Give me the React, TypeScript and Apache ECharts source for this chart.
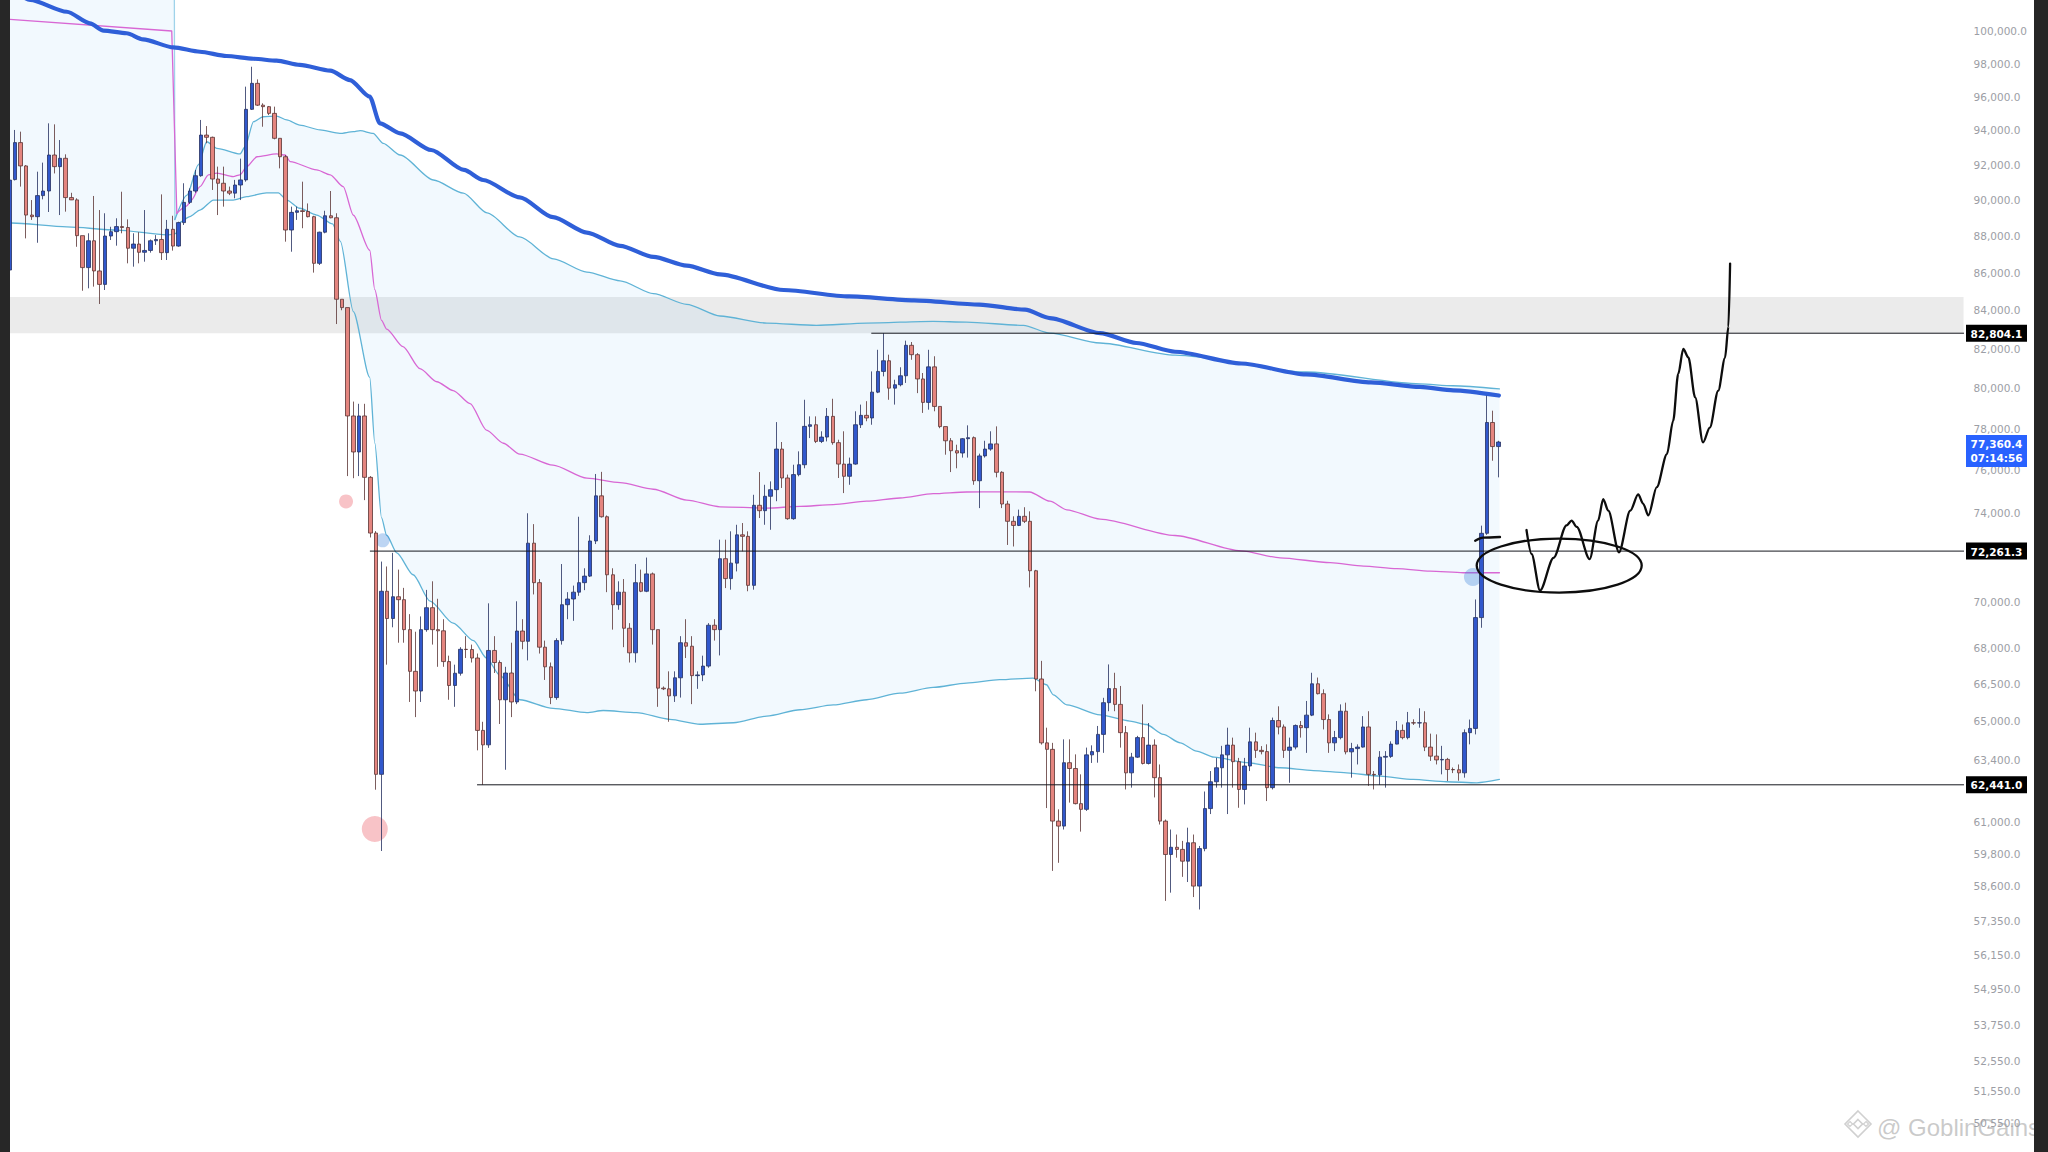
import React, { useEffect, useRef } from "react";
import * as echarts from "echarts";

// ---------- scale / tick data ----------
const SLOT_COUNT = 347;
const PRICE_MIN = 49636;
const PRICE_MAX = 101976;

const priceTicks = [
  100000, 98000, 96000, 94000, 92000, 90000, 88000, 86000, 84000, 82000, 80000,
  78000, 76000, 74000, 70000, 68000, 66500, 65000, 63400, 61000, 59800, 58600,
  57350, 56150, 54950, 53750, 52550, 51550, 50550,
];

const levelPrices = [82804.1, 72261.3, 62441.0];
const levelStarts = [152.9, 64.0, 83.0];
const lastPrice = 77360.4;
const countdown = "07:14:56";
const zoneTop = 84700;
const zoneBottom = 82804.1;

// ---------- candles [open, close, low, high] ----------
const candlesA = [
  [86140, 91120, 85900, 91300], [91150, 93280, 91100, 94020], [93280, 91930, 90750, 93920],
  [91930, 89150, 87860, 91980], [89150, 89060, 88880, 89990], [89060, 90240, 87620, 91600],
  [90240, 90500, 90030, 92120], [90500, 92560, 89320, 94410], [92560, 91890, 91500, 94350],
  [91890, 92370, 89150, 93430], [92370, 90130, 89340, 92600], [90130, 90000, 89990, 90400],
  [90000, 88010, 87400, 90090], [88010, 86270, 85030, 88010], [86270, 87730, 85160, 88140],
  [87730, 86090, 85250, 90220], [86090, 85370, 84330, 89430], [85370, 87990, 85070, 89250],
  [87990, 88230, 87770, 88500], [88230, 88510, 87460, 88970], [88510, 88460, 88140, 90460],
  [88460, 87320, 86500, 88910], [87320, 87550, 86320, 88140], [87550, 87100, 86500, 88200],
  [87100, 87200, 86590, 89430], [87200, 87730, 87080, 87800], [87730, 87800, 87500, 88040],
  [87800, 87080, 86680, 90310], [87080, 88360, 86680, 88880], [88360, 87440, 87190, 89110],
  [87440, 88730, 87400, 88780], [88730, 89860, 88600, 90940], [89860, 90500, 89770, 90650],
  [90500, 91370, 90400, 91700], [91370, 93720, 91310, 94610], [93720, 93590, 93240, 94250],
  [93590, 91180, 90560, 93630], [91180, 90940, 89150, 91890], [90940, 90500, 89620, 91890],
  [90500, 90380, 90270, 90750], [90380, 90840, 90090, 91130], [90840, 91130, 89990, 92350],
  [91130, 95240, 91030, 96600], [95240, 96800, 95200, 97810], [96800, 95490, 95440, 97040],
  [95490, 95400, 94210, 95600], [95400, 95000, 94900, 95440], [95000, 93530, 93470, 95400],
  [93530, 92460, 91790, 93530], [92460, 88320, 87680, 92560], [88320, 89300, 87130, 89620],
  [89300, 89390, 88880, 89620], [89390, 89350, 88420, 91030], [89350, 89060, 89020, 89800],
  [89060, 86500, 86000, 89110], [86500, 88200, 86410, 88230], [88200, 89110, 88140, 89390],
  [89110, 89000, 88970, 90500], [89000, 84580, 83280, 89250], [84580, 84140, 84000, 84580],
];

const candlesB = [
  [84140, 78630, 75730, 84140], [78630, 76880, 75630, 79340], [76880, 78630, 75730, 79230],
  [78630, 75670, 74600, 79230], [75670, 73080, 72880, 75730], [73080, 62850, 62250, 73170],
  [62850, 70470, 59910, 71790], [70470, 69280, 67310, 71570], [69280, 70230, 68900, 72180],
  [70230, 70100, 68240, 71430], [70100, 68800, 68240, 70620], [68800, 67030, 65760, 69470],
  [67030, 66210, 65140, 68710], [66210, 68800, 65760, 69370], [68800, 69750, 68710, 70530],
  [69750, 68800, 68160, 70910], [68800, 68750, 67220, 70140], [68750, 67440, 67220, 69250],
  [67440, 66440, 65850, 67690], [66440, 66950, 65560, 67310], [66950, 67960, 66850, 68050],
  [67960, 67950, 67590, 68520], [67950, 67590, 67400, 68160], [67590, 64600, 63800, 67780],
  [64600, 64020, 62441, 64950], [64020, 67910, 63900, 69940], [67910, 67400, 66960, 68520],
  [67400, 65850, 64860, 67490], [65850, 66960, 63030, 67220], [66960, 65760, 65140, 68240],
  [65760, 68740, 65670, 70030], [68740, 68300, 67960, 69250], [68300, 72620, 67490, 73990],
  [72620, 70850, 70330, 73490], [70850, 68050, 67780, 71010], [68050, 67220, 66670, 68330],
  [67220, 65940, 65670, 67400], [65940, 68330, 65850, 68430], [68330, 69880, 68160, 71680],
  [69880, 70130, 69250, 70430], [70130, 70430, 69180, 70720], [70430, 70850, 70270, 73830],
  [70850, 71140, 70520, 71490], [71140, 72720, 71100, 72980], [72720, 74800, 72580, 75830],
  [74800, 73830, 73790, 75930], [73830, 71200, 70430, 73890], [71200, 69880, 68800, 71490],
  [69880, 70430, 69660, 70910], [70430, 68860, 68050, 71010], [68860, 67810, 67400, 69080],
  [67810, 70850, 67400, 71680], [70850, 70470, 70430, 71430], [70470, 71240, 70430, 71970],
  [71240, 68800, 68160, 71300], [68800, 66330, 65560, 68800], [66330, 66300, 66250, 66400],
  [66300, 66010, 64950, 67030], [66010, 66760, 65760, 67030], [66760, 68240, 65940, 68520],
  [68240, 68090, 67590, 69250], [68090, 66850, 65670, 68520], [66850, 66880, 66300, 67030],
  [66880, 67250, 66620, 67690], [67250, 68990, 67180, 69080], [68990, 68800, 68330, 69250],
];

const candlesC = [
  [68800, 71920, 67700, 72780], [71920, 71030, 70610, 72780], [71030, 71720, 70540, 73160],
  [71720, 73000, 71350, 73460], [73000, 72930, 72250, 73540], [72930, 70730, 70470, 73160],
  [70730, 74360, 70540, 74850], [74360, 74110, 73770, 75920], [74110, 74780, 73460, 75320],
  [74780, 75090, 73230, 75480], [75090, 77020, 74550, 78330], [77020, 75640, 75170, 77360],
  [75640, 73740, 73690, 75800], [73740, 75800, 73690, 76270], [75800, 76270, 75720, 76910],
  [76270, 78120, 76100, 79430], [78120, 78200, 77550, 78610], [78200, 77390, 77310, 78610],
  [77390, 77600, 77310, 77880], [77600, 78610, 77390, 79020], [78610, 77330, 77230, 79480],
  [77330, 76300, 75640, 77470], [76300, 75720, 74930, 77880], [75720, 76300, 75320, 76610],
  [76300, 78200, 76270, 78860], [78200, 78660, 78040, 79190], [78660, 78530, 78370, 79360],
  [78530, 79810, 78200, 80850], [79810, 80850, 79760, 81950], [80850, 81390, 80600, 82804.1],
  [81390, 80010, 79430, 81700], [80010, 80180, 79190, 80430], [80180, 80630, 80100, 81060],
  [80630, 82180, 80270, 82420], [82180, 81700, 81440, 82350], [81700, 80470, 79760, 81780],
  [80470, 79300, 78780, 80770], [79300, 81080, 78940, 81950], [81080, 79100, 78860, 81620],
  [79100, 78110, 78030, 79100], [78110, 77420, 76750, 78110], [77420, 76940, 75920, 77550],
  [76940, 76830, 76100, 77230], [76830, 77520, 76610, 77550], [77520, 77570, 76610, 78170],
  [77570, 75510, 75320, 77630], [75510, 76690, 74230, 76800], [76690, 77020, 76610, 77420],
  [77020, 77270, 76940, 77880], [77270, 75910, 75670, 78120], [75910, 74420, 74230, 75960],
  [74420, 73620, 72540, 74570], [73620, 73430, 72470, 73850], [73430, 73850, 73400, 74160],
  [73850, 73620, 73540, 74270], [73620, 71380, 70640, 74080], [71380, 66710, 66200, 71420],
  [66710, 64100, 64030, 67470],
];

const candlesD = [
  [64100, 63840, 61540, 64710], [63840, 61040, 59170, 64100], [61040, 60850, 59470, 61490],
  [60850, 63310, 60720, 64240], [63310, 63080, 61750, 64240], [63080, 61710, 61680, 63640],
  [61710, 61490, 60640, 62850], [61490, 63620, 61430, 63910], [63620, 63750, 63300, 64000],
  [63750, 64440, 63310, 64780], [64440, 65730, 63700, 65930], [65730, 66310, 65380, 67320],
  [66310, 65660, 65380, 66970], [65660, 64510, 63910, 66420], [64510, 62910, 62260, 64780],
  [62910, 63530, 62330, 63700], [63530, 64310, 63500, 64380], [64310, 63280, 63240, 65660],
  [63280, 64010, 63240, 64900], [64010, 62720, 61950, 64240], [62720, 61040, 60910, 63240],
  [61040, 59780, 58070, 61100], [59780, 60050, 58370, 60720], [60050, 59970, 59660, 60530],
  [59970, 59530, 58950, 60290], [59530, 60220, 58760, 60790], [60220, 58610, 58210, 60530],
  [58610, 60000, 57760, 60100], [60000, 61520, 59900, 62180], [61520, 62560, 61310, 62980],
  [62560, 63110, 62330, 63500], [63110, 63620, 62330, 63980], [63620, 64010, 61310, 64710],
  [64010, 63350, 62330, 64310], [63350, 62260, 61550, 63500], [62260, 63180, 61680, 63500],
  [63180, 64140, 62980, 64710], [64140, 63800, 63500, 64510], [63800, 63750, 63640, 63970],
  [63750, 62330, 61810, 64040], [62330, 65000, 62260, 65120], [65000, 64740, 64440, 65580],
  [64740, 63800, 63500, 64840], [63800, 63930, 62520, 64310], [63930, 64800, 63840, 64840],
  [64800, 64710, 64310, 64980], [64710, 65220, 63700, 65800], [65220, 66510, 65180, 66970],
  [66510, 66100, 66070, 66770], [66100, 65040, 64640, 66280], [65040, 64100, 63700, 65250],
  [64100, 64310, 63770, 64580], [64310, 65380, 64240, 65660], [65380, 63740, 63640, 65730],
  [63740, 63870, 62720, 64100], [63870, 63930, 63240, 64040], [63930, 64740, 63910, 65180],
  [64740, 62850, 62400, 65380], [62850, 62830, 62260, 62980], [62830, 63530, 62441, 63770],
  [63530, 63560, 62330, 63770], [63560, 64050, 63500, 64160], [64050, 64600, 64040, 64980],
  [64600, 64310, 64240, 64840], [64310, 64910, 64240, 65350], [64910, 64900, 64820, 65050],
  [64900, 64910, 64710, 65500], [64910, 63930, 63770, 65380], [63930, 63570, 63380, 64470],
  [63570, 63420, 63240, 64440], [63420, 63440, 62850, 63980], [63440, 63040, 62590, 63500],
  [63040, 63030, 62900, 63120], [63030, 62910, 62600, 63240], [62910, 64510, 62720, 64640],
  [64510, 64680, 64040, 65040], [64680, 69320, 64440, 70110], [69320, 73070, 68880, 73420],
  [73070, 78310, 73000, 79630], [78310, 77140, 76460, 78890], [77140, 77360.4, 75670, 77420],
];

// ---------- indicator lines [barIndex, price] ----------
const trendMA = [
  [-0.5, 103100], [3.7, 101980], [10.2, 101230], [14.3, 100500], [16.7, 100040], [20.8, 99880],
  [23.7, 99500], [29.1, 99000], [33.8, 98730], [38.5, 98470], [43.3, 98300], [47.4, 98180],
  [51.5, 97920], [56.9, 97570], [60.4, 97000], [63.9, 96000], [65.7, 94410], [69.3, 93820],
  [74.8, 92850], [80.6, 91700], [84.0, 91125], [90.5, 90140], [96.4, 89030], [102.4, 88180],
  [108.3, 87450], [114.2, 86850], [120.1, 86380], [126, 85910], [137.3, 85070], [148.9, 84730],
  [160.4, 84520], [172, 84300], [180.1, 84030], [184.5, 83590], [193.4, 82810], [199.8, 82300],
  [206.7, 81850], [218.4, 81250], [229.9, 80700], [241.4, 80300], [250.1, 80070], [256, 79900],
  [264.1, 79640],
];

const vwapOldMid = [[-0.5, 100760], [28.8, 100020], [29.7, 89250]];
const vwapMid = [
  [29.7, 89250], [31.4, 89650], [32.3, 89990], [33.8, 90750], [35.3, 91420], [36.8, 91520],
  [39.7, 91320], [40.9, 91420], [42.1, 91890], [43.9, 92460], [47.4, 92620], [48.9, 92560],
  [49.8, 92180], [54.5, 91700], [56.9, 91420], [59.2, 90750], [61.0, 89140], [63.9, 87210],
  [64.8, 85090], [66.0, 83470], [66.9, 83020], [69.8, 82110], [72.8, 80990], [75.8, 80330],
  [78.7, 79890], [81.7, 79240], [84.6, 77940], [87.6, 77300], [90.5, 76780], [96.4, 76250],
  [102.4, 75630], [108.3, 75420], [114.2, 75110], [120.1, 74600], [126, 74290], [134.3, 74230],
  [140.2, 74310], [146.1, 74390], [152, 74550], [157.9, 74700], [163.8, 74900], [169.7, 74980],
  [175.6, 74990], [180.9, 74980], [184.5, 74550], [187.5, 74150], [193.4, 73720], [206.7, 72970],
  [218.4, 72270], [225.3, 71960], [234.2, 71740], [240.1, 71590], [246, 71470], [251.9, 71360],
  [257.8, 71290], [264.2, 71290],
];

const vwapOldUpper = [[29.25, 104000], [29.35, 88900]];
const vwapUpper = [
  [29.35, 88900], [31.5, 90270], [33.5, 91990], [35, 93330], [36.8, 92950], [40.9, 92620],
  [41.8, 93040], [43.3, 94510], [45, 94800], [47.4, 94840], [49.2, 94610], [51.5, 94310],
  [55.1, 94020], [58.6, 93820], [61, 93920], [62.2, 93980], [64.5, 93820], [66.3, 93240],
  [69.3, 92560], [75.2, 91125], [80.5, 90380], [84.7, 89270], [90.5, 87940], [96.5, 86740],
  [102.4, 86030], [108.3, 85560], [114.2, 84880], [120.1, 84310], [126, 83700], [134.3, 83330],
  [143.1, 83210], [152, 83330], [163.8, 83420], [169.7, 83380], [179.8, 83210], [184.5, 82810],
  [193.4, 82300], [206.7, 81680], [229.9, 80820], [250.1, 80220], [255.9, 80130], [264.2, 79970],
];

const vwapOldLower = [
  [-0.5, 88740], [0.4, 88710], [10.2, 88490], [19.1, 88320], [27.9, 88050], [29.6, 88140],
];
const vwapLower = [
  [29.6, 88140], [30.3, 88760], [32.0, 89060], [33.8, 89430], [36.2, 89990], [39.7, 89990],
  [42.1, 90180], [45.6, 90400], [47.7, 90400], [49.2, 89990], [51.5, 89530], [54.5, 89150],
  [57.3, 88660], [58.7, 87700], [61.0, 83930], [63.9, 80550], [64.8, 77310], [66.0, 73780],
  [66.9, 72980], [68.7, 72180], [71.6, 71200], [74.6, 70040], [78.7, 69080], [82.3, 68330],
  [84.6, 67590], [87.0, 66860], [90.5, 65850], [96.4, 65500], [102.4, 65320], [105.3, 65410],
  [111.2, 65320], [117.1, 65050], [122.5, 64850], [128.4, 64910], [134.3, 65180], [140.2, 65440],
  [146.1, 65640], [152, 65850], [157.9, 66120], [163.8, 66360], [169.7, 66540], [175.6, 66680],
  [181.5, 66750], [183.9, 66470], [185.1, 66050], [187.5, 65640], [193.4, 65230], [198.7, 64980],
  [201.6, 64840], [204.6, 64440], [207.6, 64100], [210.5, 63770], [213.6, 63530], [219.4, 63310],
  [225.3, 63110], [231.2, 63000], [237.1, 62910], [243, 62780], [248.9, 62650], [254.8, 62560],
  [260.2, 62520], [264.2, 62650],
];

// ---------- signal dots ----------
const pinkDots = [[59.7, 74540], [64.8, 60740]];
const blueDots = [[66.2, 72750], [259.5, 71100]];

// ---------- hand-drawn sketch ----------
const sketchPath = [
  [269.0, 73220], [269.9, 72130], [271.4, 70500], [273.8, 71960], [276.1, 73430], [277.0, 73650],
  [277.9, 73360], [280.2, 71900], [281.7, 73650], [282.6, 74650], [283.5, 74110], [285.4, 72210],
  [287.4, 74110], [288.8, 74870], [289.7, 74430], [290.6, 73890], [292.1, 75210], [293.9, 76780],
  [295.0, 78390], [295.9, 80720], [296.8, 81990], [297.7, 81560], [298.9, 79550], [300.3, 77340],
  [301.5, 78060], [303.0, 79890], [304.2, 81540], [304.8, 83140], [305.1, 86490],
];
const sketchHook = [[259.9, 72730], [261.3, 72870], [264.3, 72900]];
const sketchEllipseCenter = [274.8, 71610];

// ---------- styles ----------
const UP = "#3158cc";
const DOWN = "#e4857f";
const BAND = "#5fb3d6";
const MID = "#d867d4";
const MA = "#2f5fd8";
const pinkDotSizes = [14, 26];
const blueDotSizes = [14, 18];

const fmt = (v: number) =>
  v.toLocaleString("en-US", { minimumFractionDigits: 1, maximumFractionDigits: 1 });

export default function App() {
  const ref = useRef<HTMLDivElement>(null);

  useEffect(() => {
    document.body.style.margin = "0";
    const el = ref.current;
    if (!el) return;
    const chart = echarts.init(el, null, { renderer: "svg", width: 2048, height: 1152 });

    const candles = [...candlesA, ...candlesB, ...candlesC, ...candlesD];
    const cats = Array.from({ length: SLOT_COUNT }, (_, i) => String(i));
    const bandPoly = [...vwapUpper, ...[...vwapLower].reverse()];
    const oldBandPoly = [[-0.5, 104000], [29.3, 104000], ...[...vwapOldLower].reverse()];

    const fill = (poly: number[][], color: string, z: number) => ({
      type: "custom",
      coordinateSystem: "cartesian2d",
      xAxisIndex: 1,
      yAxisIndex: 0,
      silent: true,
      z,
      data: [[100, 70000]],
      renderItem: (_p: any, api: any) => ({
        type: "polygon",
        shape: { points: poly.map((pt) => api.coord(pt)) },
        style: { fill: color },
      }),
    });

    const line = (data: number[][], color: string, width: number, z: number, smooth: number | boolean = 0.25) => ({
      type: "line",
      xAxisIndex: 1,
      yAxisIndex: 0,
      data,
      symbol: "none",
      showSymbol: false,
      smooth,
      smoothMonotone: smooth ? "x" : undefined,
      silent: true,
      z,
      lineStyle: { color, width, cap: "round", join: "round" },
      emphasis: { disabled: true },
    });

    const levelSeries = levelPrices.map((p, k) => ({
      ...line([[levelStarts[k], p], [SLOT_COUNT - 0.5, p]], "#16181f", 1, 6, false),
      ...(k === 0
        ? {
            markArea: {
              silent: true,
              itemStyle: { color: "rgba(205,205,205,0.4)" },
              data: [[{ yAxis: zoneTop }, { yAxis: zoneBottom }]],
            },
          }
        : {}),
    }));

    chart.setOption({
      animation: false,
      backgroundColor: "#ffffff",
      grid: { left: 6.5, right: 84.4, top: 0, bottom: 0 },
      xAxis: [
        { type: "category", data: cats, show: false, boundaryGap: true },
        { type: "value", min: -0.5, max: SLOT_COUNT - 0.5, show: false },
      ],
      yAxis: [
        {
          type: "log",
          logBase: 10,
          min: PRICE_MIN,
          max: PRICE_MAX,
          position: "right",
          axisLine: { show: false },
          axisTick: { show: false },
          splitLine: { show: false },
          axisLabel: {
            customValues: priceTicks,
            formatter: (v: number) => fmt(v),
            color: "#9c9ea5",
            fontSize: 10.5,
            fontFamily: "DejaVu Sans",
            margin: 10,
            showMinLabel: true,
            showMaxLabel: true,
          },
        },
      ],
      series: [
        fill(oldBandPoly, "rgba(33,150,243,0.06)", 1),
        fill(bandPoly, "rgba(33,150,243,0.06)", 1),
        line(vwapOldLower, BAND, 1.3, 2),
        line(vwapLower, BAND, 1.3, 2),
        line(vwapOldUpper, "#9fd3ea", 1.3, 2, false),
        line(vwapUpper, BAND, 1.3, 2),
        line(vwapOldMid, MID, 1.3, 2, false),
        line(vwapMid, MID, 1.3, 2),
        line(trendMA, MA, 4.2, 3),
        {
          type: "scatter",
          xAxisIndex: 1,
          yAxisIndex: 0,
          data: pinkDots,
          symbolSize: (_v: any, p: any) => pinkDotSizes[p.dataIndex],
          itemStyle: { color: "rgba(235,90,100,0.45)" },
          silent: true,
          z: 3,
        },
        {
          type: "scatter",
          xAxisIndex: 1,
          yAxisIndex: 0,
          data: blueDots,
          symbolSize: (_v: any, p: any) => blueDotSizes[p.dataIndex],
          itemStyle: { color: "rgba(60,130,220,0.42)" },
          silent: true,
          z: 3,
        },
        {
          type: "candlestick",
          xAxisIndex: 0,
          yAxisIndex: 0,
          data: candles,
          barWidth: 4,
          silent: true,
          z: 4,
          itemStyle: {
            color: UP,
            color0: DOWN,
            borderColor: "#24305f",
            borderColor0: "#5a3434",
            borderWidth: 0.8,
          },
        },
        ...levelSeries,
        line(sketchPath, "#0d0d0d", 2.3, 8, 0.3),
        line(sketchHook, "#0d0d0d", 2.3, 8, 0.3),
      ],
    });

    const yPx = (v: number) => chart.convertToPixel({ yAxisIndex: 0 } as any, v) as unknown as number;
    const center = chart.convertToPixel({ xAxisIndex: 1, yAxisIndex: 0 } as any, sketchEllipseCenter) as unknown as number[];

    const textStyle = (text: string, bold: boolean, size: number, color: string) => ({
      text,
      fill: color,
      font: `${bold ? "bold " : ""}${size}px "DejaVu Sans"`,
      align: "center",
      verticalAlign: "middle",
      textAlign: "center",
      textVerticalAlign: "middle",
    });

    const graphics: any[] = [];
    levelPrices.forEach((p) => {
      const y = yPx(p);
      graphics.push({ type: "rect", z: 100, shape: { x: 1966, y: y - 8.5, width: 61, height: 17 }, style: { fill: "#000" } });
      graphics.push({ type: "text", z: 101, x: 1996.5, y: y + 0.5, style: textStyle(fmt(p), true, 10.5, "#fff") });
    });
    const ly = yPx(lastPrice);
    graphics.push({ type: "rect", z: 100, shape: { x: 1966, y: ly - 7, width: 61, height: 32 }, style: { fill: "#2962ff" } });
    graphics.push({ type: "text", z: 101, x: 1996.5, y: ly + 1.5, style: textStyle(fmt(lastPrice), true, 10.5, "#fff") });
    graphics.push({ type: "text", z: 101, x: 1996.5, y: ly + 15.5, style: textStyle(countdown, true, 10.5, "#fff") });

    // hand-drawn ellipse
    graphics.push({
      type: "ellipse",
      z: 90,
      shape: { cx: center[0], cy: center[1], rx: 82.5, ry: 27 },
      style: { fill: "none", stroke: "#0d0d0d", lineWidth: 2.3 },
    });

    // dark frame strips
    graphics.push({ type: "rect", z: 110, shape: { x: 0, y: 0, width: 10, height: 1152 }, style: { fill: "#272727" } });
    graphics.push({ type: "rect", z: 110, shape: { x: 2034, y: 0, width: 14, height: 1152 }, style: { fill: "#262626" } });

    // watermark
    const wx = 1858;
    const wy = 1124;
    const diamond = (cx: number, cy: number, r: number) => [[cx, cy - r], [cx + r, cy], [cx, cy + r], [cx - r, cy]];
    graphics.push({
      type: "group",
      z: 105,
      children: [
        { type: "polygon", shape: { points: diamond(wx, wy, 13) }, style: { fill: "none", stroke: "rgba(170,170,170,0.55)", lineWidth: 1.6 } },
        { type: "polygon", shape: { points: diamond(wx, wy, 4.5) }, style: { fill: "none", stroke: "rgba(170,170,170,0.55)", lineWidth: 1.6 } },
        { type: "polygon", shape: { points: diamond(wx - 8, wy, 2.5) }, style: { fill: "none", stroke: "rgba(170,170,170,0.55)", lineWidth: 1.2 } },
        { type: "polygon", shape: { points: diamond(wx + 8, wy, 2.5) }, style: { fill: "none", stroke: "rgba(170,170,170,0.55)", lineWidth: 1.2 } },
        {
          type: "text",
          x: 1877,
          y: 1127,
          style: {
            text: "@ GoblinGains",
            fill: "rgba(150,150,150,0.5)",
            font: '24px "Liberation Sans"',
            align: "left",
            verticalAlign: "middle",
            textAlign: "left",
            textVerticalAlign: "middle",
          },
        },
      ],
    });

    chart.setOption({ graphic: { elements: graphics } });

    return () => {
      chart.dispose();
    };
  }, []);

  return (
    <div
      ref={ref}
      style={{ position: "fixed", left: 0, top: 0, width: 2048, height: 1152, background: "#fff" }}
    />
  );
}
